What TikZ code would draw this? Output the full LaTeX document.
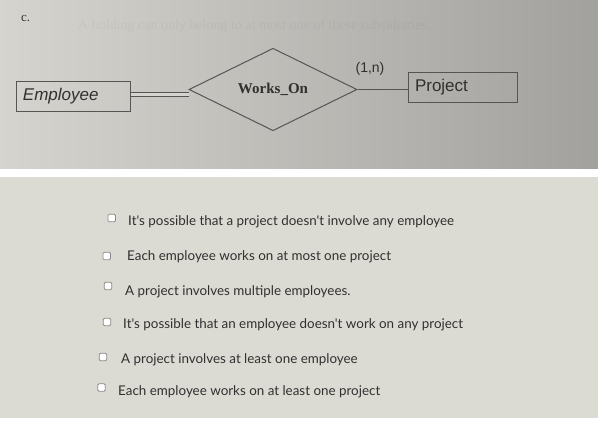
\documentclass[tikz,border=0pt]{standalone}
\usepackage{fontspec}
\usetikzlibrary{shapes.geometric}
\setmainfont{Liberation Serif}
\newfontfamily\listfont{Lato}
\newfontfamily\erfont{Liberation Sans}
\definecolor{panelleft}{HTML}{D6D4CF}
\definecolor{panelright}{HTML}{A3A19D}
\definecolor{panelbottom}{HTML}{DCDBD3}
\definecolor{erline}{HTML}{555555}
\definecolor{ertext}{HTML}{303030}
\definecolor{itemtext}{HTML}{303030}
\definecolor{boxline}{HTML}{8A8A88}
\tikzset{
  /tikz/.cd,
  entity/.style={draw=erline,line width=1pt,minimum height=30pt,inner xsep=7pt,align=left,
                 text=ertext,font=\erfont\fontsize{17}{17}\selectfont},
  checkbox/.style={draw=boxline,fill=white,rounded corners=1.2pt,minimum size=7.5pt,inner sep=0pt,line width=0.8pt}
}

\begin{document}
\begin{tikzpicture}[x=1pt,y=-1pt,
                    item/.style={anchor=base west,inner sep=0pt,text=itemtext,font=\listfont\fontsize{13.4}{15}\selectfont},
                    rel/.style={draw=erline,line width=1pt}]
  \useasboundingbox (0,0) rectangle (598,434);
  \fill[white] (0,0) rectangle (598,434);
  \shade [left color=panelleft,right color=panelright] (0,0) rectangle (598,168);
  \fill[panelbottom] (0,177) rectangle (598,418);

  % question header
  \node[anchor=base west,inner sep=0pt,text=ertext,font=\fontsize{13}{13}\selectfont] (label) at (21,21) {c.};
  \node[anchor=base west,inner sep=0pt,text=black,text opacity=0.04,font=\fontsize{14}{14}\selectfont] (ghost) at (78,29)
       {A holding can only belong to at most one of these subsidiaries.};

  % ER diagram
  \node[entity,text width=100pt] (emp) at (73,96.5) {\itshape Employee};
  \node[entity,text width=95pt] (proj) at (462.5,87) {Project};
  \node[diamond,draw=erline,line width=1pt,minimum width=168pt,minimum height=46pt,inner sep=0pt,
        text=ertext,font=\bfseries\fontsize{15}{15}\selectfont] (works) at (273,89.5) {Works\_On};
  \draw[rel,double=panelleft,double distance=3.6pt] ([yshift=2pt]emp.east) -- ([yshift=2pt]emp.east -| works.west);
  \draw[rel] (works.east) -- (works.east -| proj.west);
  \node[anchor=base,inner sep=0pt,text=ertext,font=\erfont\fontsize{14}{14}\selectfont] (card) at (370,72) {(1,n)};

  % answer options
  \node[checkbox] (box1) at (111.7,218) {};
  \node[item] (opt1) at (128,225) {It's possible that a project doesn't involve any employee};
  \node[checkbox] (box2) at (106.7,256) {};
  \node[item] (opt2) at (127,260) {Each employee works on at most one project};
  \node[checkbox] (box3) at (108,286) {};
  \node[item] (opt3) at (125,295) {A project involves multiple employees.};
  \node[checkbox] (box4) at (107,322) {};
  \node[item] (opt4) at (123,328) {It's possible that an employee doesn't work on any project};
  \node[checkbox] (box5) at (103,357) {};
  \node[item] (opt5) at (121,363) {A project involves at least one employee};
  \node[checkbox] (box6) at (101.5,387.5) {};
  \node[item] (opt6) at (118,395) {Each employee works on at least one project};
\end{tikzpicture}
\end{document}
